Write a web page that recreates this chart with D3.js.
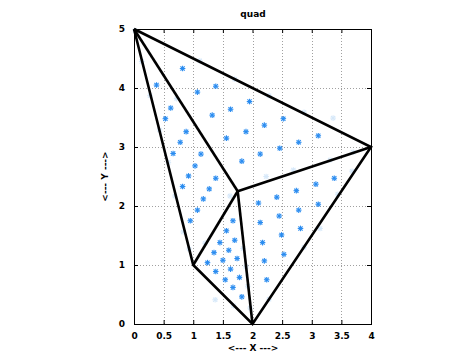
<!DOCTYPE html>
<html>
<head>
<meta charset="utf-8">
<script src="https://cdn.jsdelivr.net/npm/d3@7"></script>
<style>
  body { margin: 0; background: #fff; }
  text { font-family: "DejaVu Sans", sans-serif; font-weight: bold; font-size: 9px; fill: #000; }
</style>
</head>
<body>
<svg id="chart"></svg>
<script>
// Quad corners and the centre point used to split it into 4 triangles
const corners = [[0, 5], [4, 3], [2, 0], [1, 1]];
const centre = [1.75, 2.25];

// Sample points (clearly visible asterisks)
const points = [
  [0.82, 4.33], [0.38, 4.05], [1.07, 3.93], [1.38, 4.03], [0.62, 3.66],
  [0.53, 3.48], [1.32, 3.54], [1.63, 3.64], [1.95, 3.77], [2.52, 3.48],
  [2.20, 3.37], [0.88, 3.26], [0.78, 3.08], [0.66, 2.89], [1.13, 2.88],
  [1.56, 3.15], [1.89, 3.26], [2.13, 2.88], [2.46, 2.98], [2.78, 3.08],
  [3.11, 3.19], [1.82, 2.76], [1.03, 2.68], [0.92, 2.51], [1.38, 2.47],
  [0.82, 2.33], [1.27, 2.29], [1.17, 2.12], [1.07, 1.93], [0.95, 1.75],
  [3.38, 2.47], [3.07, 2.37], [2.74, 2.26], [2.41, 2.15], [2.10, 2.05],
  [3.11, 2.03], [2.78, 1.93], [2.45, 1.83], [2.13, 1.72], [1.67, 1.75],
  [2.81, 1.62], [1.56, 1.58], [2.49, 1.51], [1.45, 1.38], [1.70, 1.42],
  [2.17, 1.38], [1.35, 1.21], [1.60, 1.25], [2.53, 1.18], [1.24, 1.04],
  [1.50, 1.08], [1.74, 1.11], [2.20, 1.07], [1.38, 0.89], [1.63, 0.93],
  [1.54, 0.75], [1.78, 0.79], [2.24, 0.75], [1.67, 0.62], [1.82, 0.46]
];

// Faint points near the triangle edges
const faintPoints = [
  [0.13, 4.45], [0.27, 3.87], [0.72, 3.82], [1.11, 4.46], [1.70, 4.15],
  [2.28, 3.87], [2.87, 3.59], [0.43, 3.29], [0.58, 2.74], [0.69, 2.17],
  [1.62, 2.17], [3.36, 3.49], [3.70, 2.91], [3.31, 2.78], [2.69, 2.61],
  [2.23, 2.50], [3.68, 2.59], [3.44, 2.20], [0.83, 1.56], [0.93, 1.27],
  [1.20, 1.37], [1.37, 0.41], [1.68, 0.31], [1.96, 0.27], [2.28, 0.42],
  [2.87, 1.30], [3.14, 1.62], [1.84, 1.28], [1.89, 0.97], [1.92, 0.64],
  [0.02, 4.97]
];

const xTicks = [0, 0.5, 1, 1.5, 2, 2.5, 3, 3.5, 4];
const yTicks = [0, 1, 2, 3, 4, 5];

const width = 474, height = 355;
const margin = { top: 29, left: 134, right: 103, bottom: 31 };

const svg = d3.select('#chart').attr('width', width).attr('height', height);

const x = d3.scaleLinear().domain([0, 4]).range([margin.left, width - margin.right]);
const y = d3.scaleLinear().domain([0, 5]).range([height - margin.bottom, margin.top]);

// Grid
const grid = svg.append('g').attr('stroke', '#a0a0a0').attr('stroke-dasharray', '1,2').attr('stroke-width', 1);
grid.selectAll('line.gx')
  .data(xTicks.slice(1, -1))
  .join('line')
  .attr('x1', (d) => Math.round(x(d)) + 0.5).attr('x2', (d) => Math.round(x(d)) + 0.5)
  .attr('y1', y(0)).attr('y2', y(5));
grid.selectAll('line.gy')
  .data(yTicks.slice(1, -1))
  .join('line')
  .attr('y1', (d) => Math.round(y(d)) + 0.5).attr('y2', (d) => Math.round(y(d)) + 0.5)
  .attr('x1', x(0)).attr('x2', x(4));

// Axes with inward, mirrored ticks
function axisStyle(g) {
  g.select('.domain').remove();
  g.selectAll('line').attr('stroke', '#000');
  g.selectAll('text').attr('font-size', null).attr('font-family', null);
}

svg.append('g')
  .attr('transform', `translate(0, ${y(0)})`)
  .call(d3.axisBottom(x).tickValues(xTicks).tickSize(-4).tickPadding(9).tickFormat(d3.format('')))
  .call(axisStyle);
svg.append('g')
  .attr('transform', `translate(0, ${y(5)})`)
  .call(d3.axisTop(x).tickValues(xTicks).tickSize(-4).tickFormat(''))
  .call(axisStyle);
svg.append('g')
  .attr('transform', `translate(${x(0)}, 0)`)
  .call(d3.axisLeft(y).tickValues(yTicks).tickSize(-4).tickPadding(9).tickFormat(d3.format('')))
  .call(axisStyle);
svg.append('g')
  .attr('transform', `translate(${x(4)}, 0)`)
  .call(d3.axisRight(y).tickValues(yTicks).tickSize(-4).tickFormat(''))
  .call(axisStyle);

// Frame
svg.append('rect')
  .attr('x', x(0) + 0.5).attr('y', y(5) + 0.5)
  .attr('width', x(4) - x(0)).attr('height', y(0) - y(5))
  .attr('fill', 'none').attr('stroke', '#000').attr('stroke-width', 1);

// Asterisk marks
function asterisk(sel, colour, r) {
  sel.each(function (d) {
    const g = d3.select(this).attr('transform', `translate(${x(d[0])}, ${y(d[1])})`);
    const k = r * 0.75;
    [[-r, 0, r, 0], [0, -r, 0, r], [-k, -k, k, k], [-k, k, k, -k]].forEach((s) => {
      g.append('line')
        .attr('x1', s[0]).attr('y1', s[1]).attr('x2', s[2]).attr('y2', s[3])
        .attr('stroke', colour).attr('stroke-width', 1.1);
    });
  });
}

svg.append('g').selectAll('g')
  .data(faintPoints)
  .join('g')
  .call(asterisk, '#d6e8f9', 2.8);

svg.append('g').selectAll('g')
  .data(points)
  .join('g')
  .call(asterisk, '#2a8cf0', 2.8);

// Triangles: outer quad + spokes to the centre
const line = d3.line().x((d) => x(d[0])).y((d) => y(d[1]));
const segs = [[...corners, corners[0]]].concat(corners.map((c) => [c, centre]));
svg.append('g').selectAll('path')
  .data(segs)
  .join('path')
  .attr('d', line)
  .attr('fill', 'none')
  .attr('stroke', '#000')
  .attr('stroke-width', 2.6)
  .attr('stroke-linejoin', 'miter');

// Titles
svg.append('text').attr('x', 253).attr('y', 17).attr('text-anchor', 'middle').text('quad');
svg.append('text').attr('x', 253).attr('y', 351).attr('text-anchor', 'middle').text('<--- X --->');
svg.append('text')
  .attr('transform', `translate(108, ${(y(0) + y(5)) / 2}) rotate(-90)`)
  .attr('text-anchor', 'middle')
  .text('<--- Y --->');
</script>
</body>
</html>
